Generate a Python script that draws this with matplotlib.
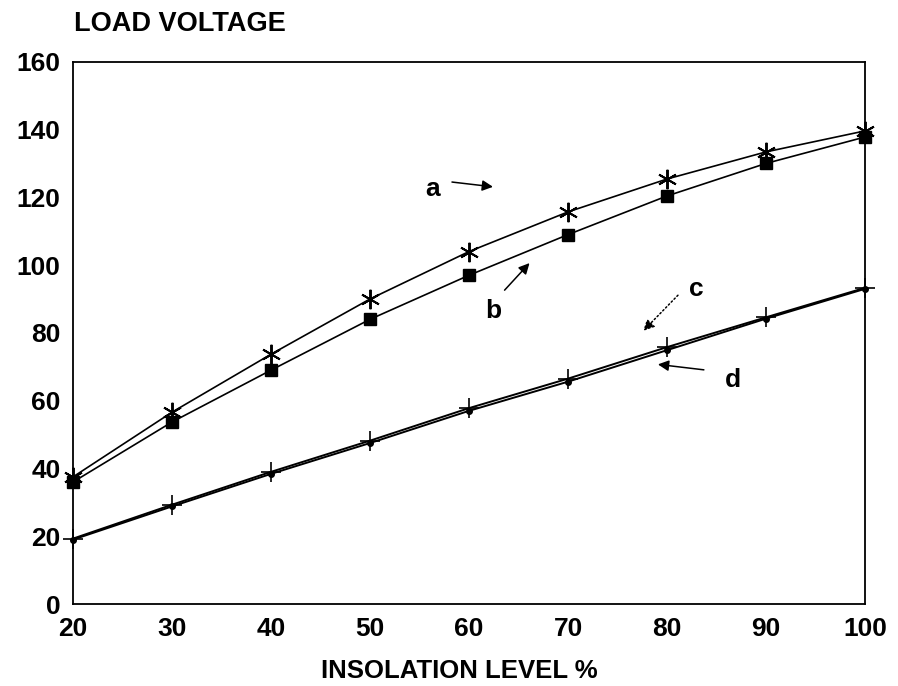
import matplotlib
matplotlib.use("Agg")
import matplotlib.pyplot as plt

plt.rcParams['font.family'] = ['Liberation Sans', 'DejaVu Sans']

insolation = [20, 30, 40, 50, 60, 70, 80, 90, 100]
series_a = [37.5, 56.6, 73.7, 90.0, 104.0, 115.7, 125.4, 133.4, 139.6]
series_b = [36.0, 53.7, 69.0, 84.0, 97.0, 109.0, 120.4, 130.0, 137.8]
series_c = [19.3, 29.3, 39.0, 48.2, 57.8, 66.5, 75.8, 84.6, 93.3]
series_d = [19.0, 28.8, 38.4, 47.5, 57.0, 65.6, 74.9, 84.2, 93.0]

fig = plt.figure(figsize=(8.98, 6.86), dpi=100)
ax = fig.add_axes([0.0813, 0.1195, 0.882, 0.7905])

ax.plot(insolation, series_a, color='black', lw=1.2, marker=(6, 2, 0), ms=14, mew=1.4, clip_on=False, zorder=3)
ax.plot(insolation, series_b, color='black', lw=1.2, marker='s', ms=8, clip_on=False, zorder=3)
ax.plot(insolation, series_c, color='black', lw=1.4, marker='+', ms=15, mew=1.2, clip_on=False, zorder=3)
ax.plot(insolation, series_d, color='black', lw=1.4, marker='o', ms=4, clip_on=False, zorder=3)

ax.set_xlim(20, 100)
ax.set_ylim(0, 160)
ax.set_xticks(insolation)
ax.set_yticks(range(0, 161, 20))
ax.tick_params(length=0, labelsize=19)
ax.tick_params(axis='y', pad=9)
ax.tick_params(axis='x', pad=9)
for lab in ax.get_xticklabels() + ax.get_yticklabels():
    lab.set_fontweight('bold')
for s in ax.spines.values():
    s.set_linewidth(1.3)

fig.text(0.2005, 0.965, 'LOAD VOLTAGE', fontsize=19.5, fontweight='bold', ha='center', va='center')
fig.text(0.512, 0.022, 'INSOLATION LEVEL %', fontsize=18.5, fontweight='bold', ha='center', va='center')

aprops = dict(arrowstyle='-|>', color='black', lw=1.1, mutation_scale=16)
ax.text(56.3, 122.4, 'a', fontsize=19, fontweight='bold', ha='center', va='center')
ax.annotate('', xy=(62.7, 123.0), xytext=(58.0, 124.6), arrowprops=aprops)
ax.text(62.5, 86.4, 'b', fontsize=19, fontweight='bold', ha='center', va='center')
ax.annotate('', xy=(66.3, 101.2), xytext=(63.4, 92.0), arrowprops=aprops)
ax.text(83.0, 93.0, 'c', fontsize=19, fontweight='bold', ha='center', va='center')
ax.annotate('', xy=(77.4, 80.0), xytext=(81.3, 91.7),
            arrowprops=dict(arrowstyle='-|>', color='black', lw=1.1, ls=':', mutation_scale=16))
ax.text(86.7, 66.0, 'd', fontsize=19, fontweight='bold', ha='center', va='center')
ax.annotate('', xy=(78.8, 70.8), xytext=(84.0, 69.0), arrowprops=aprops)

fig.savefig('out.png', dpi=100)
